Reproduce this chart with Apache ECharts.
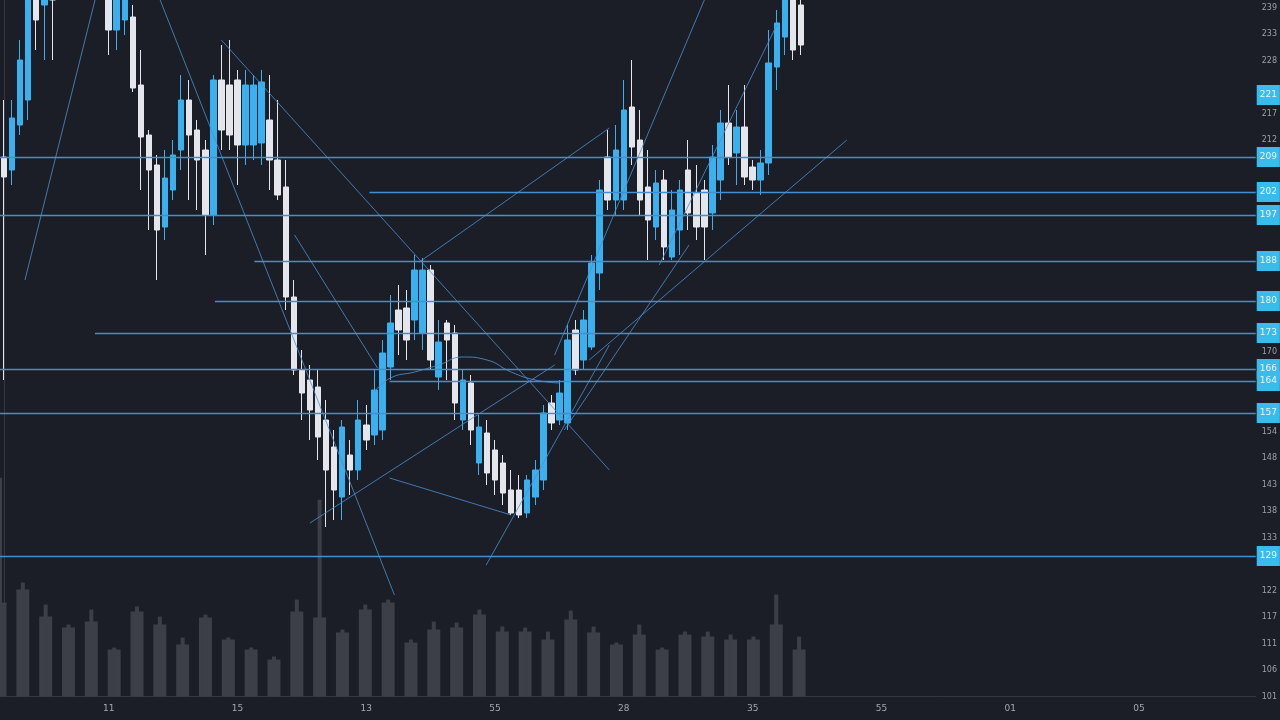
<!DOCTYPE html>
<html>
<head>
<meta charset="utf-8">
<script src="https://cdn.jsdelivr.net/npm/echarts/dist/echarts.min.js"></script>
<style>
html,body{margin:0;padding:0;background:#1b1e27;}
#c{width:1280px;height:720px;}
</style>
</head>
<body>
<div id="c"></div>
<script>
// ---- data ----
const categoryCount = 156;
const categories = Array.from({length: categoryCount}, (_, i) => 'D' + i);
const tickLabels = ['11', '15', '13', '55', '28', '35', '55', '01', '05'];
const tickStart = 13, tickStep = 16;

// [open, close, low, high]
const candles = [
  [208.6,204.6,164,220],[206,216.4,203,220],[215,228,213,232],[220,244,216,246],
  [242,236,230,246],[239,243,228,245],[246,240,228,248],[242,248,241,250],
  [247,254,246,256],[256,250,249,258],[252,246,245,253],[248,254,247,256],
  [252,244,241.6,254],[244,234,229,246],[234,240,230,242],[236,242,233,244],
  [236.6,222.4,221.6,239],[223,212.6,202,230],[213,206,194,214],[207,194,184,209],
  [194.6,204.4,192,210],[202,209,200,212],[210,220,206,225],[220,213,200,224],
  [214,208,198,216],[210,197,189,212],[197,224,195,225],[224,214,210,231],
  [223,213,210,232],[224,211,203,226],[211,223,207,226],[211,223,208,225],
  [211.4,223.6,207,226],[216,208,202,225],[208,201,200,220],[202.6,180.6,178,208],
  [180.6,166,165,184],[166,161.4,156,170],[164,158,152,167],[162.6,152.6,148,166],
  [156,146,134.6,160],[150.6,142,136,154],[140.6,154.6,136,156],[149,146,141,152],
  [146,156,144,160],[155,152,150,159],[153,162,151,166],[154,169.4,152,172],
  [166.6,175.4,164,181],[178,174,169,183],[178.4,172,168,182],[176,186,172,189],
  [173.4,186,170,188.4],[186,168,166,187],[164.6,171.6,162,176],[175.4,172,164,176],
  [173.4,159.4,156,175],[156,164,154,166],[163.4,154,151,165],[147.4,154.6,145,157],
  [153.4,145.4,143,156],[150,144,141,152],[147.4,141.4,139,149],[142,137.4,137,146],
  [142,137,136.4,145],[137.4,144,136.4,145],[140.6,146,139,148],[144,157.4,142,159],
  [159.4,155.4,154,161],[156,161.4,155,164],[155.4,172,154,175],[174,166,165,176],
  [168,176,166,178],[170.6,187.4,170,189],[185.4,202,182,204],[208.6,200,198,214],
  [200,210,197,215],[200,218,198,224],[218.6,210.6,207,228],[212,200,197,218],
  [202.6,196,188,210],[194.6,203.4,192,206],[204,190.6,188,206],[188.6,198,188,202],
  [194,202,189,204],[206,197.4,194,212],[201.4,194.6,192,207],[202,194.6,188,204],
  [197.4,208.6,194,211],[204,215.4,200,218],[215.4,208.6,207,223],[209.4,214.6,203,218],
  [214.6,204.6,203,223],[206.6,204,202,208],[204,207.4,201,210],[207.4,227.4,205,234],
  [226.6,235.4,222,238],[232.6,240,229,242],[240,230,228,242],[239,231,229,241]
];

// volume (separate, coarser slots)
const volSlotCount = 56;
const volSlots = Array.from({length: volSlotCount}, (_, i) => 'V' + i);
const volBody = [940,1070,800,690,750,470,850,720,520,790,570,470,370,850,790,640,870,940,
                 540,670,690,820,650,650,570,770,640,520,620,470,620,600,570,570,720,470];
const volPeak = [2190,1140,920,720,870,490,900,800,590,820,590,490,400,970,1970,670,920,970,
                 570,750,740,870,700,690,650,860,700,540,720,490,650,650,620,600,1020,600];

// horizontal levels (start given in bar-slot units)
const levelPrices = [208.6, 201.6, 197.0, 187.8, 179.8, 173.4, 166.2, 163.8, 157.4, 128.8];
const levelStarts = [-0.5, 45.4, -0.5, 31.1, 26.2, 11.3, -0.5, 47.9, -0.5, -0.5];
const tagPrices = [221.0, 208.6, 201.6, 197.0, 187.8, 179.8, 173.4, 166.2, 163.8, 157.4, 128.8];

// trend lines: [[slot, price], [slot, price]]
const trendLines = [
  [[2.6, 184], [11.3, 240]],
  [[19.4, 240], [48.5, 121]],
  [[27.0, 232], [75.2, 146]],
  [[36.1, 193], [46.4, 166.4]],
  [[38.0, 135.4], [68.4, 167]],
  [[51.6, 187.6], [75.2, 214.4]],
  [[59.9, 127], [75.2, 171]],
  [[72.7, 168], [104.7, 212]],
  [[68.4, 169], [87.0, 240]],
  [[81.4, 187], [96.0, 235]],
  [[47.9, 144.4], [63.0, 137]],
  [[69.6, 154], [85.1, 191]]
];

// smooth average curve
const maIdx = [46, 48, 51, 54, 57, 60, 63, 66, 69];
const maVal = [161.6, 164.4, 165.6, 167, 168.6, 168, 165.6, 164, 163.4];

// ---- build ----
const maData = new Array(candles.length).fill(null);
maIdx.forEach((k, j) => { maData[k] = maVal[j]; });

const lineBlue = '#4290d2';
const levelData = levelPrices.map((p, k) =>
  [{coord: [levelStarts[k], p]}, {coord: [categoryCount - 0.5, p]}]);
const tagData = tagPrices.map(p => ({yAxis: p, value: p.toFixed(0)}));
const trendData = trendLines.map(t => [{coord: t[0]}, {coord: t[1]}]);
const nearTag = v => tagPrices.some(t => Math.abs(t - v) < 3.2);

const chart = echarts.init(document.getElementById('c'), null, {renderer: 'canvas'});
chart.setOption({
  backgroundColor: '#1b1e27',
  animation: false,
  grid: {left: 0, right: 23, top: 0, bottom: 23.5},
  xAxis: [
    {
      type: 'category', data: categories, boundaryGap: true,
      axisLine: {show: true, lineStyle: {color: '#343843'}},
      axisTick: {show: false},
      splitLine: {show: false},
      axisLabel: {
        color: '#a3a8b0', fontSize: 9, margin: 8, fontFamily: 'DejaVu Sans',
        interval: (i) => i >= tickStart && (i - tickStart) % tickStep === 0,
        formatter: (v, i) => tickLabels[(i - tickStart) / tickStep] || ''
      }
    },
    {type: 'category', data: volSlots, boundaryGap: false, show: false},
    {type: 'category', data: volSlots, boundaryGap: false, show: false},
    {type: 'value', min: -0.5, max: categoryCount - 0.5, show: false}
  ],
  yAxis: [
    {
      type: 'value', position: 'right', min: 100.7, max: 240, interval: 5.3,
      axisLine: {show: true, lineStyle: {color: '#343843'}},
      axisTick: {show: false},
      splitLine: {show: false},
      axisLabel: {
        color: '#9aa0a8', fontSize: 8, margin: 6, showMaxLabel: false,
        fontFamily: 'DejaVu Sans', formatter: v => nearTag(v) ? '' : v.toFixed(0)
      }
    },
    {type: 'value', min: 0, max: 6970, show: false}
  ],
  series: [
    {
      type: 'bar', xAxisIndex: 1, yAxisIndex: 1, data: volBody, barWidth: 13,
      itemStyle: {color: '#3c3f47'}, z: 1, silent: true
    },
    {
      type: 'bar', xAxisIndex: 2, yAxisIndex: 1, data: volPeak, barWidth: 4,
      itemStyle: {color: '#3c3f47'}, z: 1, silent: true
    },
    {
      type: 'candlestick', data: candles, barWidth: 6, clip: true, z: 3,
      itemStyle: {
        color: '#3ab0ee', color0: '#e4e6ec',
        borderColor: '#3ab0ee', borderColor0: '#e4e6ec', borderWidth: 1
      }
    },
    {
      type: 'line', data: maData, connectNulls: true, smooth: true, symbol: 'none',
      lineStyle: {color: '#4a90d4', width: 1, opacity: 0.85}, z: 4, silent: true
    },
    {
      type: 'line', xAxisIndex: 3, yAxisIndex: 0, data: [], clip: false, z: 5, silent: true,
      markLine: {
        symbol: 'none', silent: true, animation: false,
        lineStyle: {color: lineBlue, width: 1.3, type: 'solid'},
        label: {show: false},
        data: levelData
      }
    },
    {
      type: 'line', xAxisIndex: 3, yAxisIndex: 0, data: [], clip: false, z: 4, silent: true,
      markLine: {
        symbol: 'none', silent: true, animation: false,
        lineStyle: {color: '#4a90d4', width: 1, opacity: 0.8, type: 'solid'},
        label: {show: false},
        data: trendData
      }
    },
    {
      type: 'line', yAxisIndex: 0, data: [], clip: false, z: 6, silent: true,
      markLine: {
        symbol: 'none', silent: true, animation: false,
        lineStyle: {color: 'rgba(0,0,0,0)', width: 1, type: 'solid'},
        label: {
          show: true, position: 'end', distance: 1, opacity: 1,
          formatter: (pr) => Number(pr.value).toFixed(0),
          backgroundColor: '#3abbee', color: '#e6f6ff',
          fontSize: 9, padding: [6, 3, 5, 3], fontFamily: 'DejaVu Sans'
        },
        data: tagData
      }
    }
  ]
});
</script>
</body>
</html>
